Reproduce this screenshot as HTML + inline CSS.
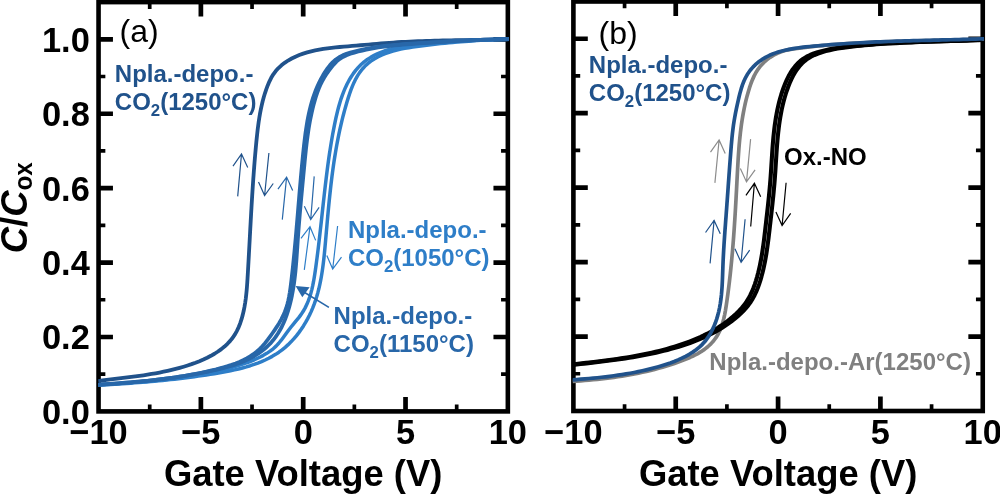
<!DOCTYPE html>
<html><head><meta charset="utf-8"><title>C-V characteristics</title>
<style>
html,body{margin:0;padding:0;background:#fff}
svg{display:block}
text{font-family:'Liberation Sans', sans-serif}
.tk{font-size:34.4px;font-weight:bold;fill:#000}
.al{font-size:36.4px;font-weight:bold;fill:#000}
.pl{font-size:32px;fill:#000}
.an{font-size:24px;font-weight:bold}
</style></head><body>
<svg width="1000" height="494" viewBox="0 0 1000 494">
<rect width="1000" height="494" fill="#fff"/>
<defs><clipPath id="ca"><rect x="98.1" y="0" width="411.2" height="494"/></clipPath><clipPath id="cb"><rect x="572.5" y="0" width="411.8" height="494"/></clipPath></defs>
<rect x="98.55" y="2.10" width="409.30" height="409.30" fill="none" stroke="#000" stroke-width="4.60"/>
<path d="M200.88 411.40v-14.40 M200.88 2.10v14.40M303.20 411.40v-14.40 M303.20 2.10v14.40M405.53 411.40v-14.40 M405.53 2.10v14.40M98.55 336.98h14.40 M507.85 336.98h-14.40M98.55 262.56h14.40 M507.85 262.56h-14.40M98.55 188.15h14.40 M507.85 188.15h-14.40M98.55 113.73h14.40 M507.85 113.73h-14.40M98.55 39.31h14.40 M507.85 39.31h-14.40" stroke="#000" stroke-width="4.70" fill="none"/>
<path d="M149.71 411.40v-6.80 M149.71 2.10v6.80M252.04 411.40v-6.80 M252.04 2.10v6.80M354.36 411.40v-6.80 M354.36 2.10v6.80M456.69 411.40v-6.80 M456.69 2.10v6.80M98.55 374.19h6.80 M507.85 374.19h-6.80M98.55 299.77h6.80 M507.85 299.77h-6.80M98.55 225.35h6.80 M507.85 225.35h-6.80M98.55 150.94h6.80 M507.85 150.94h-6.80M98.55 76.52h6.80 M507.85 76.52h-6.80" stroke="#000" stroke-width="3.70" fill="none"/>
<rect x="573.40" y="1.50" width="409.35" height="409.50" fill="none" stroke="#000" stroke-width="4.60"/>
<path d="M675.74 411.00v-14.40 M675.74 1.50v14.40M778.08 411.00v-14.40 M778.08 1.50v14.40M880.41 411.00v-14.40 M880.41 1.50v14.40M573.40 336.55h14.40 M982.75 336.55h-14.40M573.40 262.09h14.40 M982.75 262.09h-14.40M573.40 187.64h14.40 M982.75 187.64h-14.40M573.40 113.18h14.40 M982.75 113.18h-14.40M573.40 38.73h14.40 M982.75 38.73h-14.40" stroke="#000" stroke-width="4.70" fill="none"/>
<path d="M624.57 411.00v-6.80 M624.57 1.50v6.80M726.91 411.00v-6.80 M726.91 1.50v6.80M829.24 411.00v-6.80 M829.24 1.50v6.80M931.58 411.00v-6.80 M931.58 1.50v6.80M573.40 373.77h6.80 M982.75 373.77h-6.80M573.40 299.32h6.80 M982.75 299.32h-6.80M573.40 224.86h6.80 M982.75 224.86h-6.80M573.40 150.41h6.80 M982.75 150.41h-6.80M573.40 75.95h6.80 M982.75 75.95h-6.80" stroke="#000" stroke-width="3.70" fill="none"/>
<g clip-path="url(#ca)">
<path d="M98.23 381.05L102.41 380.50L106.57 379.97L110.72 379.46L114.85 378.96L118.97 378.46L123.07 377.96L127.17 377.45L131.25 376.94L135.33 376.40L139.39 375.84L143.44 375.26L147.48 374.64L151.52 373.98L155.55 373.28L159.57 372.53L163.58 371.73L167.59 370.87L171.59 369.94L175.59 368.94L179.59 367.87L183.58 366.71L187.56 365.47L191.55 364.14L195.52 362.70L199.47 361.16L203.36 359.51L207.18 357.72L210.90 355.80L214.51 353.73L217.99 351.51L221.32 349.12L224.48 346.56L227.44 343.81L230.18 340.87L232.70 337.73L234.96 334.37L236.95 330.81L238.70 327.07L240.23 323.18L241.55 319.19L242.68 315.12L243.65 311.02L244.48 306.91L245.17 302.80L245.76 298.69L246.24 294.59L246.65 290.48L246.99 286.38L247.28 282.27L247.55 278.17L247.79 274.06L248.03 269.95L248.26 265.83L248.50 261.72L248.72 257.60L248.95 253.48L249.17 249.36L249.39 245.23L249.62 241.11L249.84 236.98L250.06 232.85L250.28 228.72L250.51 224.59L250.74 220.46L250.97 216.33L251.20 212.20L251.44 208.06L251.68 203.93L251.93 199.80L252.19 195.67L252.45 191.53L252.72 187.40L252.99 183.27L253.28 179.14L253.58 175.02L253.88 170.89L254.20 166.76L254.52 162.64L254.86 158.52L255.21 154.40L255.58 150.28L255.95 146.17L256.34 142.05L256.75 137.94L257.19 133.84L257.65 129.74L258.17 125.64L258.73 121.56L259.36 117.48L260.05 113.42L260.83 109.37L261.70 105.33L262.66 101.30L263.74 97.30L264.93 93.31L266.25 89.34L267.71 85.40L269.35 81.55L271.21 77.84L273.33 74.31L275.74 71.04L278.45 68.03L281.43 65.29L284.65 62.79L288.08 60.53L291.68 58.49L295.42 56.67L299.27 55.06L303.19 53.63L307.17 52.39L311.17 51.31L315.20 50.38L319.25 49.59L323.31 48.91L327.40 48.33L331.49 47.83L335.60 47.39L339.72 47.01L343.84 46.65L347.96 46.31L352.08 45.97L356.20 45.62L360.33 45.26L364.45 44.89L368.56 44.53L372.68 44.17L376.80 43.82L380.92 43.47L385.04 43.14L389.16 42.83L393.28 42.53L397.41 42.26L401.53 42.01L405.66 41.78L409.79 41.57L413.92 41.38L418.05 41.21L422.18 41.05L426.31 40.91L430.45 40.79L434.58 40.67L438.71 40.57L442.85 40.47L446.99 40.39L451.12 40.31L455.26 40.23L459.39 40.16L463.53 40.10L467.67 40.03L471.80 39.96L475.94 39.90L480.07 39.83L484.21 39.75L488.34 39.67L492.47 39.59L496.60 39.49L500.74 39.39L504.87 39.27L509.00 39.14" fill="none" stroke="#20528b" stroke-width="3.80" stroke-linejoin="round"/>
<path d="M98.31 385.00L102.29 384.71L106.27 384.42L110.26 384.13L114.26 383.84L118.26 383.56L122.27 383.27L126.28 382.98L130.29 382.68L134.30 382.37L138.31 382.06L142.33 381.73L146.34 381.39L150.35 381.04L154.36 380.67L158.37 380.28L162.37 379.87L166.37 379.44L170.36 378.98L174.35 378.50L178.33 377.99L182.31 377.46L186.28 376.89L190.23 376.29L194.18 375.66L198.12 374.99L202.05 374.29L205.97 373.54L209.89 372.75L213.79 371.92L217.70 371.04L221.59 370.11L225.48 369.13L229.37 368.10L233.26 367.02L237.14 365.88L241.02 364.67L244.87 363.38L248.68 362.01L252.45 360.53L256.15 358.94L259.78 357.22L263.31 355.36L266.74 353.34L270.05 351.16L273.19 348.78L276.09 346.14L278.75 343.26L281.25 340.20L283.64 337.01L285.99 333.75L288.37 330.47L290.85 327.25L293.43 324.09L296.04 320.96L298.59 317.82L301.01 314.62L303.21 311.30L305.15 307.87L306.87 304.34L308.39 300.70L309.71 296.98L310.87 293.18L311.88 289.32L312.77 285.40L313.55 281.44L314.24 277.45L314.87 273.44L315.46 269.42L316.02 265.41L316.56 261.39L317.09 257.38L317.60 253.38L318.10 249.37L318.58 245.38L319.06 241.38L319.52 237.39L319.98 233.40L320.42 229.41L320.87 225.43L321.31 221.44L321.74 217.46L322.18 213.48L322.61 209.51L323.05 205.53L323.49 201.56L323.93 197.58L324.38 193.61L324.83 189.64L325.30 185.66L325.77 181.69L326.25 177.72L326.75 173.74L327.26 169.77L327.78 165.79L328.32 161.82L328.88 157.84L329.46 153.87L330.06 149.89L330.69 145.92L331.34 141.95L332.02 137.99L332.73 134.03L333.47 130.07L334.24 126.12L335.05 122.17L335.89 118.23L336.78 114.30L337.73 110.39L338.75 106.51L339.86 102.65L341.06 98.83L342.38 95.05L343.81 91.32L345.38 87.64L347.10 84.02L348.98 80.47L351.04 77.00L353.27 73.63L355.69 70.41L358.30 67.36L361.12 64.52L364.13 61.91L367.33 59.52L370.68 57.35L374.17 55.40L377.79 53.64L381.50 52.09L385.30 50.72L389.15 49.54L393.05 48.53L396.98 47.69L400.93 46.98L404.90 46.39L408.88 45.89L412.88 45.46L416.88 45.07L420.88 44.70L424.88 44.33L428.88 43.97L432.89 43.61L436.88 43.25L440.88 42.90L444.88 42.56L448.88 42.23L452.88 41.91L456.88 41.60L460.88 41.30L464.88 41.02L468.88 40.75L472.89 40.50L476.89 40.27L480.90 40.06L484.91 39.87L488.92 39.70L492.93 39.55L496.94 39.44L500.96 39.34L504.98 39.28L509.01 39.25" fill="none" stroke="#2e7ec8" stroke-width="3.50" stroke-linejoin="round"/>
<path d="M98.23 385.18L102.33 384.95L106.42 384.72L110.49 384.48L114.54 384.23L118.59 383.97L122.62 383.71L126.65 383.43L130.66 383.15L134.66 382.85L138.66 382.55L142.65 382.23L146.64 381.90L150.62 381.55L154.60 381.20L158.57 380.82L162.54 380.43L166.51 380.03L170.48 379.61L174.45 379.17L178.42 378.71L182.39 378.23L186.37 377.74L190.35 377.22L194.33 376.68L198.33 376.13L202.32 375.54L206.33 374.94L210.34 374.31L214.36 373.66L218.40 372.98L222.43 372.27L226.47 371.52L230.49 370.72L234.50 369.86L238.49 368.94L242.44 367.94L246.36 366.87L250.24 365.70L254.07 364.44L257.84 363.07L261.55 361.59L265.19 359.98L268.75 358.25L272.23 356.37L275.62 354.35L278.91 352.18L282.10 349.84L285.18 347.33L288.15 344.67L291.00 341.86L293.74 338.91L296.35 335.83L298.85 332.64L301.22 329.34L303.47 325.95L305.59 322.46L307.58 318.91L309.44 315.29L311.16 311.62L312.75 307.90L314.20 304.15L315.53 300.36L316.74 296.54L317.84 292.68L318.84 288.81L319.74 284.90L320.56 280.97L321.29 277.02L321.95 273.06L322.55 269.07L323.09 265.07L323.58 261.06L324.03 257.04L324.45 253.02L324.83 248.99L325.20 244.95L325.56 240.92L325.91 236.89L326.27 232.86L326.62 228.83L326.98 224.81L327.33 220.79L327.70 216.77L328.07 212.75L328.45 208.74L328.83 204.73L329.23 200.73L329.64 196.73L330.07 192.73L330.51 188.73L330.96 184.74L331.44 180.75L331.93 176.76L332.45 172.78L332.99 168.80L333.55 164.83L334.14 160.86L334.75 156.89L335.40 152.93L336.07 148.97L336.78 145.01L337.52 141.06L338.29 137.11L339.10 133.17L339.95 129.23L340.83 125.30L341.76 121.36L342.72 117.44L343.74 113.52L344.79 109.60L345.89 105.69L347.04 101.78L348.24 97.87L349.51 93.99L350.86 90.14L352.32 86.36L353.92 82.67L355.68 79.09L357.63 75.64L359.78 72.34L362.17 69.23L364.81 66.32L367.72 63.63L370.87 61.16L374.23 58.93L377.75 56.92L381.42 55.14L385.18 53.60L389.03 52.25L392.92 51.07L396.84 50.05L400.79 49.15L404.75 48.36L408.72 47.66L412.71 47.03L416.70 46.46L420.70 45.93L424.69 45.42L428.69 44.93L432.69 44.46L436.69 44.01L440.69 43.58L444.69 43.17L448.70 42.78L452.70 42.41L456.71 42.06L460.72 41.73L464.73 41.42L468.74 41.13L472.75 40.86L476.77 40.61L480.79 40.37L484.81 40.15L488.84 39.95L492.87 39.77L496.90 39.61L500.93 39.46L504.97 39.33L509.01 39.22" fill="none" stroke="#2e7ec8" stroke-width="3.50" stroke-linejoin="round"/>
<path d="M98.25 384.78L102.39 384.48L106.51 384.18L110.62 383.88L114.73 383.57L118.82 383.26L122.91 382.94L126.98 382.61L131.05 382.27L135.11 381.92L139.17 381.55L143.22 381.17L147.26 380.76L151.30 380.34L155.33 379.90L159.36 379.43L163.39 378.94L167.41 378.42L171.43 377.87L175.45 377.30L179.47 376.69L183.49 376.04L187.51 375.36L191.53 374.65L195.55 373.89L199.57 373.09L203.59 372.25L207.62 371.37L211.65 370.44L215.68 369.46L219.72 368.43L223.74 367.33L227.73 366.15L231.67 364.86L235.55 363.47L239.35 361.93L243.06 360.25L246.65 358.41L250.11 356.39L253.43 354.17L256.58 351.74L259.56 349.08L262.36 346.20L265.01 343.12L267.55 339.91L270.00 336.60L272.42 333.23L274.78 329.83L277.06 326.39L279.23 322.89L281.26 319.33L283.11 315.70L284.75 311.99L286.14 308.19L287.31 304.32L288.29 300.38L289.10 296.38L289.79 292.35L290.38 288.28L290.90 284.20L291.40 280.12L291.87 276.04L292.33 271.96L292.78 267.89L293.21 263.82L293.63 259.74L294.03 255.68L294.43 251.61L294.81 247.54L295.19 243.48L295.56 239.41L295.92 235.35L296.27 231.29L296.62 227.23L296.97 223.17L297.31 219.11L297.65 215.05L297.99 210.99L298.32 206.92L298.66 202.86L299.00 198.80L299.34 194.74L299.68 190.67L300.03 186.60L300.38 182.54L300.74 178.47L301.11 174.39L301.48 170.32L301.86 166.25L302.26 162.17L302.66 158.09L303.07 154.00L303.50 149.91L303.94 145.82L304.41 141.73L304.90 137.65L305.42 133.57L306.00 129.50L306.62 125.44L307.30 121.40L308.05 117.37L308.88 113.37L309.79 109.40L310.79 105.45L311.89 101.54L313.09 97.67L314.41 93.83L315.85 90.03L317.42 86.29L319.12 82.59L320.98 78.94L322.98 75.35L325.14 71.81L327.49 68.38L330.03 65.13L332.81 62.13L335.84 59.46L339.14 57.21L342.71 55.36L346.48 53.85L350.38 52.58L354.35 51.48L358.34 50.49L362.34 49.59L366.35 48.77L370.38 48.02L374.41 47.35L378.45 46.75L382.50 46.21L386.56 45.72L390.62 45.28L394.69 44.88L398.77 44.52L402.84 44.20L406.92 43.89L411.00 43.61L415.09 43.34L419.17 43.08L423.25 42.83L427.33 42.57L431.41 42.32L435.49 42.07L439.57 41.82L443.65 41.58L447.73 41.35L451.81 41.12L455.89 40.91L459.97 40.70L464.05 40.50L468.13 40.31L472.21 40.14L476.29 39.98L480.38 39.83L484.46 39.69L488.55 39.57L492.64 39.47L496.73 39.39L500.82 39.32L504.91 39.27L509.01 39.25" fill="none" stroke="#2867a9" stroke-width="3.75" stroke-linejoin="round"/>
<path d="M98.28 384.78L102.38 384.49L106.48 384.21L110.57 383.91L114.66 383.61L118.75 383.29L122.83 382.97L126.92 382.64L131.00 382.29L135.07 381.93L139.15 381.56L143.22 381.16L147.28 380.75L151.35 380.33L155.41 379.88L159.47 379.41L163.52 378.91L167.58 378.40L171.62 377.85L175.67 377.28L179.71 376.68L183.75 376.06L187.79 375.40L191.82 374.71L195.85 373.99L199.87 373.23L203.90 372.44L207.92 371.61L211.93 370.74L215.94 369.83L219.95 368.88L223.94 367.87L227.91 366.79L231.85 365.62L235.75 364.36L239.60 362.97L243.39 361.46L247.12 359.81L250.77 358.00L254.34 356.02L257.82 353.86L261.18 351.51L264.41 348.98L267.48 346.28L270.36 343.40L273.04 340.35L275.51 337.15L277.79 333.81L279.88 330.34L281.80 326.75L283.55 323.06L285.14 319.28L286.59 315.43L287.90 311.51L289.09 307.55L290.15 303.55L291.11 299.54L291.97 295.51L292.73 291.48L293.42 287.44L294.02 283.39L294.56 279.34L295.04 275.28L295.47 271.22L295.85 267.15L296.19 263.08L296.50 259.01L296.79 254.93L297.07 250.86L297.34 246.78L297.61 242.70L297.89 238.63L298.18 234.55L298.49 230.48L298.80 226.40L299.13 222.33L299.47 218.25L299.81 214.17L300.17 210.10L300.53 206.02L300.90 201.95L301.27 197.87L301.65 193.79L302.03 189.71L302.42 185.63L302.80 181.55L303.19 177.47L303.58 173.39L303.97 169.30L304.36 165.21L304.75 161.13L305.15 157.04L305.57 152.96L306.01 148.88L306.48 144.80L306.97 140.74L307.50 136.67L308.07 132.62L308.69 128.58L309.36 124.55L310.08 120.53L310.87 116.52L311.72 112.53L312.65 108.56L313.65 104.60L314.73 100.66L315.91 96.75L317.19 92.87L318.61 89.04L320.20 85.27L321.98 81.60L323.97 78.02L326.17 74.55L328.53 71.16L331.02 67.85L333.63 64.65L336.42 61.68L339.49 59.09L342.87 56.97L346.52 55.25L350.34 53.83L354.28 52.63L358.25 51.55L362.23 50.57L366.23 49.68L370.24 48.87L374.27 48.14L378.31 47.48L382.35 46.89L386.41 46.35L390.47 45.87L394.54 45.44L398.62 45.04L402.70 44.69L406.79 44.35L410.87 44.05L414.96 43.75L419.05 43.47L423.14 43.19L427.23 42.91L431.31 42.64L435.40 42.37L439.48 42.11L443.57 41.85L447.65 41.60L451.73 41.36L455.82 41.12L459.90 40.90L463.99 40.68L468.07 40.48L472.16 40.28L476.25 40.10L480.34 39.94L484.43 39.78L488.52 39.65L492.61 39.52L496.71 39.42L500.80 39.33L504.90 39.26L509.01 39.21" fill="none" stroke="#2867a9" stroke-width="3.75" stroke-linejoin="round"/>
</g>
<g clip-path="url(#cb)">
<path d="M572.50 381.37L576.63 381.10L580.76 380.80L584.89 380.47L589.03 380.12L593.17 379.74L597.30 379.32L601.44 378.88L605.58 378.40L609.71 377.89L613.84 377.34L617.96 376.75L622.08 376.12L626.19 375.45L630.29 374.73L634.38 373.97L638.46 373.16L642.52 372.30L646.58 371.39L650.62 370.42L654.64 369.40L658.65 368.32L662.64 367.19L666.61 365.99L670.56 364.73L674.48 363.41L678.39 362.02L682.27 360.57L686.13 359.05L689.95 357.44L693.72 355.71L697.41 353.81L701.00 351.72L704.46 349.38L707.77 346.76L710.87 343.87L713.67 340.76L716.11 337.45L718.20 333.96L719.98 330.32L721.48 326.54L722.74 322.65L723.79 318.67L724.68 314.61L725.44 310.50L726.11 306.36L726.72 302.20L727.31 298.05L727.87 293.90L728.41 289.75L728.93 285.61L729.42 281.47L729.90 277.33L730.35 273.19L730.79 269.06L731.21 264.93L731.60 260.80L731.99 256.67L732.35 252.54L732.71 248.41L733.04 244.28L733.37 240.15L733.68 236.03L733.98 231.90L734.26 227.77L734.54 223.64L734.81 219.51L735.07 215.37L735.32 211.24L735.56 207.10L735.80 202.96L736.03 198.82L736.25 194.68L736.48 190.53L736.69 186.38L736.91 182.22L737.12 178.06L737.34 173.90L737.56 169.73L737.79 165.57L738.03 161.40L738.29 157.24L738.57 153.07L738.88 148.91L739.21 144.76L739.59 140.61L740.00 136.46L740.45 132.33L740.96 128.20L741.51 124.09L742.12 119.98L742.79 115.89L743.53 111.81L744.33 107.75L745.21 103.70L746.16 99.67L747.19 95.65L748.32 91.66L749.53 87.69L750.86 83.76L752.34 79.90L754.03 76.13L755.96 72.50L758.18 69.03L760.72 65.74L763.60 62.68L766.77 59.88L770.14 57.38L773.68 55.19L777.36 53.32L781.18 51.77L785.11 50.55L789.13 49.64L793.20 48.95L797.31 48.35L801.42 47.80L805.55 47.29L809.68 46.81L813.81 46.37L817.95 45.96L822.10 45.58L826.24 45.22L830.39 44.89L834.54 44.57L838.69 44.27L842.84 43.98L846.99 43.71L851.13 43.45L855.28 43.21L859.43 42.98L863.58 42.77L867.73 42.56L871.88 42.37L876.03 42.19L880.18 42.01L884.33 41.85L888.48 41.70L892.63 41.55L896.78 41.41L900.93 41.28L905.09 41.15L909.24 41.03L913.39 40.91L917.54 40.80L921.69 40.69L925.84 40.58L930.00 40.48L934.15 40.37L938.30 40.27L942.46 40.17L946.61 40.07L950.76 39.96L954.92 39.85L959.07 39.74L963.23 39.63L967.38 39.52L971.54 39.39L975.69 39.27L979.85 39.14L984.00 39.00" fill="none" stroke="#808080" stroke-width="3.70" stroke-linejoin="round"/>
<path d="M570.33 364.67L574.24 364.23L578.15 363.80L582.06 363.36L585.97 362.91L589.87 362.46L593.77 362.01L597.66 361.54L601.55 361.05L605.44 360.56L609.32 360.04L613.20 359.51L617.08 358.96L620.94 358.38L624.81 357.78L628.67 357.15L632.52 356.49L636.37 355.80L640.21 355.07L644.04 354.31L647.87 353.52L651.69 352.68L655.50 351.80L659.31 350.88L663.11 349.91L666.90 348.89L670.69 347.83L674.46 346.71L678.22 345.53L681.96 344.30L685.67 343.00L689.37 341.63L693.03 340.20L696.66 338.69L700.25 337.11L703.80 335.45L707.30 333.70L710.76 331.87L714.16 329.95L717.51 327.94L720.80 325.83L724.03 323.63L727.18 321.32L730.27 318.91L733.28 316.39L736.19 313.75L738.98 310.99L741.62 308.11L744.09 305.09L746.36 301.93L748.42 298.63L750.27 295.20L751.93 291.66L753.43 288.03L754.77 284.33L755.99 280.58L757.10 276.80L758.12 273.00L759.04 269.18L759.89 265.35L760.67 261.51L761.38 257.66L762.03 253.79L762.63 249.92L763.19 246.04L763.71 242.15L764.21 238.27L764.68 234.37L765.13 230.48L765.58 226.58L766.02 222.69L766.47 218.80L766.91 214.91L767.35 211.02L767.78 207.13L768.20 203.24L768.61 199.34L769.01 195.45L769.39 191.55L769.75 187.65L770.09 183.75L770.41 179.84L770.70 175.93L770.97 172.01L771.22 168.10L771.47 164.18L771.72 160.26L771.97 156.34L772.22 152.42L772.50 148.51L772.79 144.59L773.12 140.68L773.47 136.78L773.87 132.88L774.31 128.99L774.80 125.11L775.35 121.24L775.96 117.37L776.64 113.52L777.39 109.68L778.23 105.85L779.15 102.04L780.17 98.24L781.28 94.46L782.50 90.69L783.83 86.94L785.29 83.24L786.88 79.60L788.63 76.07L790.56 72.67L792.67 69.44L794.99 66.39L797.53 63.57L800.31 61.00L803.34 58.71L806.62 56.71L810.11 54.99L813.78 53.50L817.58 52.22L821.48 51.12L825.43 50.17L829.39 49.35L833.32 48.61L837.23 47.96L841.12 47.39L844.99 46.87L848.84 46.41L852.69 45.99L856.55 45.61L860.41 45.25L864.28 44.92L868.15 44.60L872.04 44.31L875.93 44.03L879.83 43.78L883.73 43.53L887.65 43.31L891.56 43.10L895.48 42.90L899.40 42.71L903.33 42.54L907.26 42.37L911.19 42.22L915.13 42.07L919.06 41.93L923.00 41.80L926.93 41.67L930.87 41.55L934.80 41.43L938.73 41.31L942.66 41.19L946.59 41.07L950.51 40.95L954.43 40.83L958.35 40.70L962.26 40.58L966.16 40.44L970.06 40.30L973.95 40.15L977.83 39.99" fill="none" stroke="#000" stroke-width="4.10" stroke-linejoin="round"/>
<path d="M574.63 364.67L578.54 364.23L582.45 363.80L586.36 363.36L590.27 362.91L594.17 362.46L598.07 362.01L601.96 361.54L605.85 361.05L609.74 360.56L613.62 360.04L617.50 359.51L621.38 358.96L625.24 358.38L629.11 357.78L632.97 357.15L636.82 356.49L640.67 355.80L644.51 355.07L648.34 354.31L652.17 353.52L655.99 352.68L659.80 351.80L663.61 350.88L667.41 349.91L671.20 348.89L674.99 347.83L678.76 346.71L682.52 345.53L686.26 344.30L689.97 343.00L693.67 341.63L697.33 340.20L700.96 338.69L704.55 337.11L708.10 335.45L711.60 333.70L715.06 331.87L718.46 329.95L721.81 327.94L725.10 325.83L728.33 323.63L731.48 321.32L734.57 318.91L737.58 316.39L740.49 313.75L743.28 310.99L745.92 308.11L748.39 305.09L750.66 301.93L752.72 298.63L754.57 295.20L756.23 291.66L757.73 288.03L759.07 284.33L760.29 280.58L761.40 276.80L762.42 273.00L763.34 269.18L764.19 265.35L764.97 261.51L765.68 257.66L766.33 253.79L766.93 249.92L767.49 246.04L768.01 242.15L768.51 238.27L768.98 234.37L769.43 230.48L769.88 226.58L770.32 222.69L770.77 218.80L771.21 214.91L771.65 211.02L772.08 207.13L772.50 203.24L772.91 199.34L773.31 195.45L773.69 191.55L774.05 187.65L774.39 183.75L774.71 179.84L775.00 175.93L775.27 172.01L775.52 168.10L775.77 164.18L776.02 160.26L776.27 156.34L776.52 152.42L776.80 148.51L777.09 144.59L777.42 140.68L777.77 136.78L778.17 132.88L778.61 128.99L779.10 125.11L779.65 121.24L780.26 117.37L780.94 113.52L781.69 109.68L782.53 105.85L783.45 102.04L784.47 98.24L785.58 94.46L786.80 90.69L788.13 86.94L789.59 83.24L791.18 79.60L792.93 76.07L794.86 72.67L796.97 69.44L799.29 66.39L801.83 63.57L804.61 61.00L807.64 58.71L810.92 56.71L814.41 54.99L818.08 53.50L821.88 52.22L825.78 51.12L829.73 50.17L833.69 49.35L837.62 48.61L841.53 47.96L845.42 47.39L849.29 46.87L853.14 46.41L856.99 45.99L860.85 45.61L864.71 45.25L868.58 44.92L872.45 44.60L876.34 44.31L880.23 44.03L884.13 43.78L888.03 43.53L891.95 43.31L895.86 43.10L899.78 42.90L903.70 42.71L907.63 42.54L911.56 42.37L915.49 42.22L919.43 42.07L923.36 41.93L927.30 41.80L931.23 41.67L935.17 41.55L939.10 41.43L943.03 41.31L946.96 41.19L950.89 41.07L954.81 40.95L958.73 40.83L962.65 40.70L966.56 40.58L970.46 40.44L974.36 40.30L978.25 40.15L982.13 39.99" fill="none" stroke="#000" stroke-width="4.10" stroke-linejoin="round"/>
<path d="M572.48 379.85L576.63 379.54L580.77 379.21L584.91 378.87L589.05 378.51L593.19 378.13L597.32 377.72L601.45 377.28L605.57 376.81L609.69 376.31L613.80 375.78L617.90 375.20L622.00 374.59L626.08 373.93L630.16 373.22L634.23 372.46L638.29 371.65L642.34 370.79L646.38 369.86L650.41 368.87L654.42 367.82L658.43 366.71L662.41 365.52L666.38 364.25L670.32 362.90L674.22 361.43L678.07 359.86L681.86 358.15L685.58 356.29L689.23 354.29L692.77 352.11L696.17 349.73L699.38 347.14L702.36 344.32L705.09 341.26L707.56 337.99L709.80 334.53L711.81 330.91L713.61 327.16L715.19 323.30L716.58 319.36L717.77 315.36L718.79 311.34L719.65 307.29L720.35 303.22L720.93 299.13L721.40 295.02L721.77 290.91L722.06 286.78L722.29 282.64L722.47 278.49L722.62 274.34L722.77 270.18L722.91 266.03L723.08 261.88L723.27 257.73L723.49 253.58L723.72 249.43L723.97 245.29L724.24 241.15L724.52 237.01L724.81 232.87L725.11 228.73L725.42 224.59L725.72 220.46L726.04 216.32L726.34 212.19L726.65 208.05L726.95 203.92L727.25 199.78L727.55 195.65L727.85 191.51L728.14 187.38L728.44 183.24L728.74 179.10L729.04 174.97L729.34 170.83L729.64 166.69L729.95 162.55L730.27 158.41L730.59 154.26L730.91 150.12L731.25 145.97L731.61 141.83L731.99 137.69L732.42 133.56L732.90 129.45L733.44 125.35L734.06 121.28L734.75 117.22L735.50 113.17L736.31 109.13L737.17 105.09L738.07 101.03L739.02 96.97L740.03 92.90L741.16 88.88L742.46 84.91L743.97 81.04L745.73 77.30L747.80 73.70L750.21 70.29L752.95 67.09L755.95 64.16L759.13 61.53L762.46 59.19L765.94 57.13L769.54 55.32L773.26 53.74L777.08 52.38L780.99 51.20L784.98 50.20L789.04 49.34L793.15 48.61L797.31 47.98L801.49 47.44L805.69 46.96L809.89 46.53L814.09 46.12L818.28 45.72L822.46 45.35L826.64 45.00L830.81 44.66L834.97 44.35L839.12 44.04L843.28 43.76L847.42 43.49L851.56 43.23L855.70 42.99L859.83 42.77L863.96 42.55L868.09 42.35L872.22 42.16L876.34 41.97L880.46 41.80L884.58 41.64L888.70 41.49L892.81 41.34L896.93 41.20L901.05 41.07L905.17 40.95L909.29 40.83L913.41 40.71L917.53 40.60L921.66 40.49L925.78 40.38L929.91 40.28L934.05 40.18L938.19 40.08L942.33 39.97L946.48 39.87L950.63 39.77L954.79 39.66L958.95 39.55L963.12 39.44L967.29 39.32L971.48 39.20L975.67 39.07L979.87 38.94L984.08 38.79" fill="none" stroke="#20528b" stroke-width="3.70" stroke-linejoin="round"/>
</g>
<path d="M237.70 196.40L241.50 154.00M247.73 167.43L241.50 154.00L232.99 166.11" fill="none" stroke="#20528b" stroke-width="1.20" stroke-linejoin="miter"/>
<path d="M268.90 153.00L264.60 195.50M258.53 182.00L264.60 195.50L273.25 183.49" fill="none" stroke="#20528b" stroke-width="1.20" stroke-linejoin="miter"/>
<path d="M282.30 219.60L286.60 177.10M292.67 190.60L286.60 177.10L277.95 189.11" fill="none" stroke="#2867a9" stroke-width="1.20" stroke-linejoin="miter"/>
<path d="M314.20 176.40L310.70 219.60M304.36 206.23L310.70 219.60L319.11 207.42" fill="none" stroke="#2867a9" stroke-width="1.20" stroke-linejoin="miter"/>
<path d="M304.30 269.80L310.00 226.70M315.66 240.38L310.00 226.70L300.98 238.44" fill="none" stroke="#2e7ec8" stroke-width="1.20" stroke-linejoin="miter"/>
<path d="M337.60 226.00L332.70 269.00M326.80 255.43L332.70 269.00L341.50 257.10" fill="none" stroke="#2e7ec8" stroke-width="1.20" stroke-linejoin="miter"/>
<path d="M328.9 307.4L303 291.5" stroke="#2867a9" stroke-width="1.6" fill="none"/>
<path d="M295.6 285.9L309.6 287.3L302.3 297.3Z" fill="#2867a9"/>
<path d="M714.90 182.90L719.10 140.00M725.22 153.48L719.10 140.00L710.49 152.04" fill="none" stroke="#8c8c8c" stroke-width="1.20" stroke-linejoin="miter"/>
<path d="M750.60 139.10L746.50 181.90M740.36 168.44L746.50 181.90L755.09 169.85" fill="none" stroke="#8c8c8c" stroke-width="1.20" stroke-linejoin="miter"/>
<path d="M750.70 226.50L754.40 183.30M760.68 196.70L754.40 183.30L745.93 195.44" fill="none" stroke="#000" stroke-width="1.20" stroke-linejoin="miter"/>
<path d="M786.10 182.70L782.10 225.50M775.92 212.05L782.10 225.50L790.66 213.43" fill="none" stroke="#000" stroke-width="1.20" stroke-linejoin="miter"/>
<path d="M710.10 263.40L714.10 220.40M720.28 233.85L714.10 220.40L705.54 232.48" fill="none" stroke="#20528b" stroke-width="1.20" stroke-linejoin="miter"/>
<path d="M745.10 219.20L741.10 262.30M734.92 248.85L741.10 262.30L749.65 250.22" fill="none" stroke="#20528b" stroke-width="1.20" stroke-linejoin="miter"/>
<text transform="translate(98.55 444.30) scale(1 1.04)" text-anchor="middle" class="tk">−10</text>
<text transform="translate(200.88 444.30) scale(1 1.04)" text-anchor="middle" class="tk">−5</text>
<text transform="translate(303.20 444.30) scale(1 1.04)" text-anchor="middle" class="tk">0</text>
<text transform="translate(405.53 444.30) scale(1 1.04)" text-anchor="middle" class="tk">5</text>
<text transform="translate(507.85 444.30) scale(1 1.04)" text-anchor="middle" class="tk">10</text>
<text transform="translate(573.40 444.00) scale(1 1.04)" text-anchor="middle" class="tk">−10</text>
<text transform="translate(675.74 444.00) scale(1 1.04)" text-anchor="middle" class="tk">−5</text>
<text transform="translate(778.08 444.00) scale(1 1.04)" text-anchor="middle" class="tk">0</text>
<text transform="translate(880.41 444.00) scale(1 1.04)" text-anchor="middle" class="tk">5</text>
<text transform="translate(982.75 444.00) scale(1 1.04)" text-anchor="middle" class="tk">10</text>
<text transform="translate(89.75 423.80) scale(1 1.04)" text-anchor="end" class="tk">0.0</text>
<text transform="translate(89.75 349.38) scale(1 1.04)" text-anchor="end" class="tk">0.2</text>
<text transform="translate(89.75 274.96) scale(1 1.04)" text-anchor="end" class="tk">0.4</text>
<text transform="translate(89.75 200.55) scale(1 1.04)" text-anchor="end" class="tk">0.6</text>
<text transform="translate(89.75 126.13) scale(1 1.04)" text-anchor="end" class="tk">0.8</text>
<text transform="translate(89.75 51.71) scale(1 1.04)" text-anchor="end" class="tk">1.0</text>
<text transform="translate(303.1 486.4) scale(1 1.03)" text-anchor="middle" class="al">Gate Voltage (V)</text>
<text transform="translate(778.1 486.4) scale(1 1.03)" text-anchor="middle" class="al">Gate Voltage (V)</text>
<text transform="translate(26.9 253.2) rotate(-90) scale(1 1.04)" class="al"><tspan font-style="italic">C</tspan>/<tspan font-style="italic">C</tspan><tspan font-size="24.3" dy="5.3">ox</tspan></text>
<text x="119.5" y="42" class="pl">(a)</text>
<text x="598.5" y="43.7" class="pl">(b)</text>
<text transform="translate(114.80 81.50) scale(1 1.03)" class="an" fill="#20528b">Npla.-depo.-</text>
<text transform="translate(114.80 109.55) scale(1 1.03)" class="an" fill="#20528b">CO<tspan font-size="16.8" dy="6">2</tspan><tspan dy="-6">(1250°C)</tspan></text>
<text transform="translate(347.90 237.70) scale(1 1.03)" class="an" fill="#2e7ec8">Npla.-depo.-</text>
<text transform="translate(347.90 265.75) scale(1 1.03)" class="an" fill="#2e7ec8">CO<tspan font-size="16.8" dy="6">2</tspan><tspan dy="-6">(1050°C)</tspan></text>
<text transform="translate(333.60 324.00) scale(1 1.03)" class="an" fill="#2867a9">Npla.-depo.-</text>
<text transform="translate(333.60 352.05) scale(1 1.03)" class="an" fill="#2867a9">CO<tspan font-size="16.8" dy="6">2</tspan><tspan dy="-6">(1150°C)</tspan></text>
<text transform="translate(588.80 72.70) scale(1 1.03)" class="an" fill="#20528b">Npla.-depo.-</text>
<text transform="translate(588.80 100.75) scale(1 1.03)" class="an" fill="#20528b">CO<tspan font-size="16.8" dy="6">2</tspan><tspan dy="-6">(1250°C)</tspan></text>
<text transform="translate(784.00 165.10) scale(1 1.03)" class="an" fill="#000">Ox.-NO</text>
<text transform="translate(709.30 370.10) scale(1 1.03)" class="an" fill="#808080">Npla.-depo.-Ar(1250°C)</text>
</svg>
</body></html>
